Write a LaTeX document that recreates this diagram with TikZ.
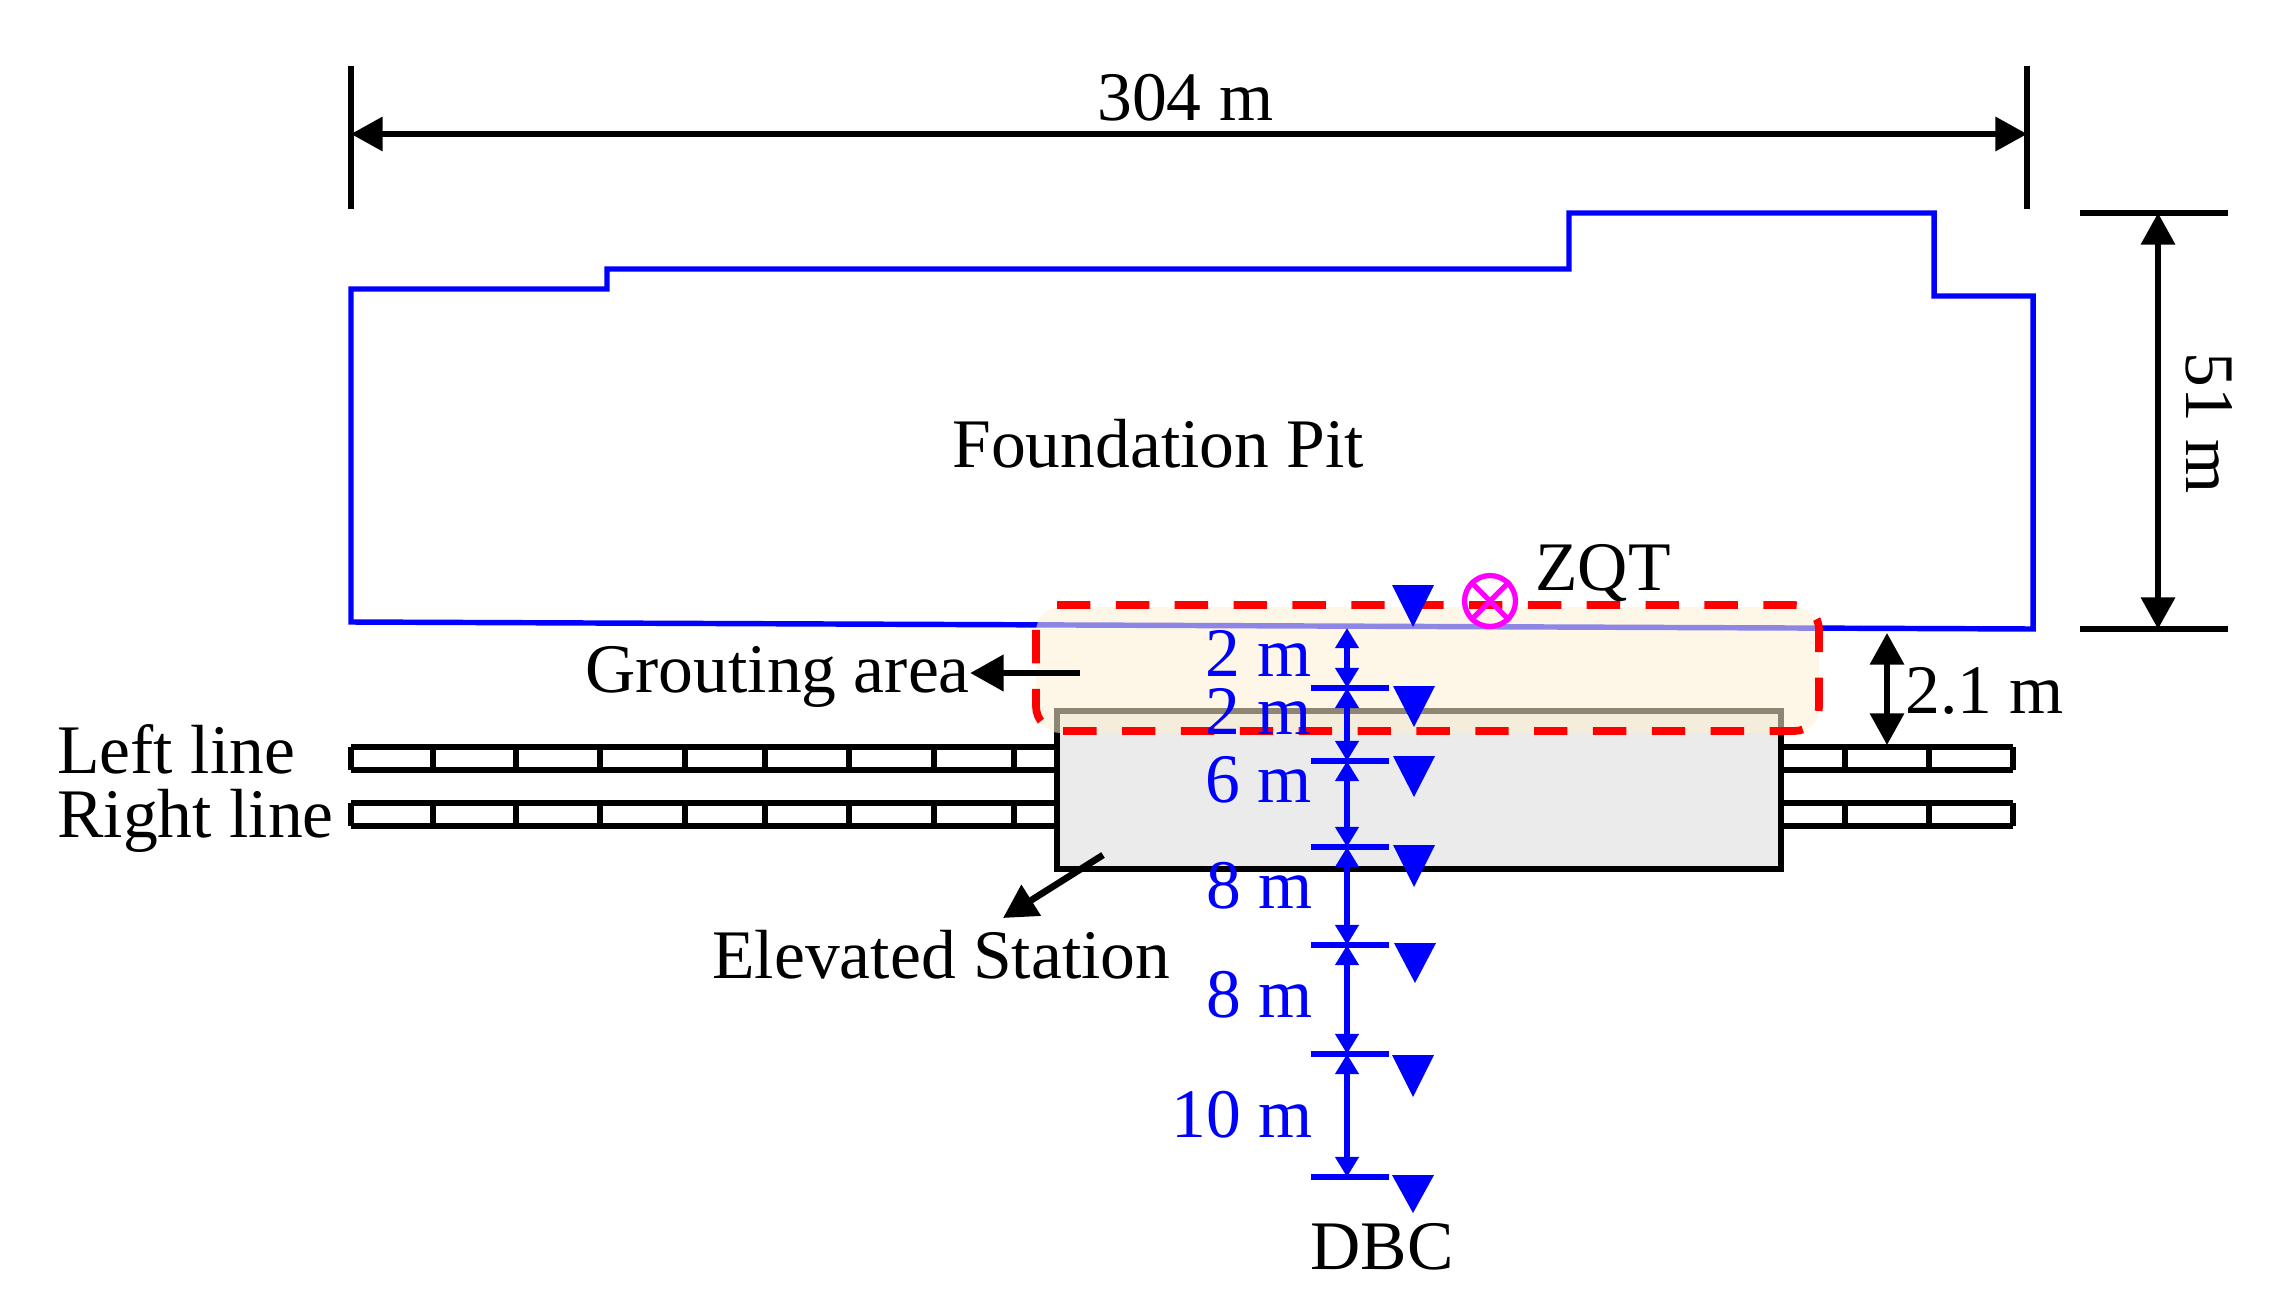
\documentclass[tikz,border=0pt]{standalone}
\usepackage{fontspec}
\setmainfont{Liberation Serif}
\usetikzlibrary{arrows.meta}
\definecolor{pit-blue}{RGB}{0,0,255}
\definecolor{mark-pink}{RGB}{255,0,255}
\definecolor{grout-cream}{RGB}{254,239,210}
\definecolor{station-grey}{RGB}{235,235,235}
\tikzset{
	txt/.style={inner sep=0pt, anchor=base west, font=\fontsize{39.6}{44}\selectfont},
	bluetxt/.style={txt, text=pit-blue},
	dimline/.style={black, line width=3.1pt, {Triangle[length=18pt,width=19pt]}-{Triangle[length=18pt,width=19pt]}},
	bluedim/.style={pit-blue, line width=3.2pt, {Triangle[length=11.5pt,width=13pt]}-{Triangle[length=11.5pt,width=13pt]}},
	extline/.style={black, line width=3.1pt},
	railline/.style={black, line width=3.4pt},
	leader/.style={black, line width=3.8pt, -{Triangle[length=19pt,width=20pt]}},
}
\newcommand{\levelmark}[3]{
	\fill[pit-blue] (#1-21,#2) -- (#1+21,#2) -- (#1,#3) -- cycle;
}
\begin{document}
\begin{tikzpicture}[x=0.02cm,y=-0.02cm]
	\useasboundingbox (0,0) rectangle (2291,1301);
	\draw[pit-blue, line width=3.1pt] (351,289) -- (607,289) -- (607,269) -- (1569,269) -- (1569,213) -- (1934,213) -- (1934,296) -- (2033,296) -- (2033,629) -- (351,622) -- cycle;
	\foreach \y in {747,770,803,826} {
		\draw[railline] (351,\y) -- (1057,\y);
		\draw[railline] (1781,\y) -- (2013,\y);
	}
	\foreach \y/\z in {747/770,803/826} {
		\foreach \x in {351,433,516,600,685,765,849,934,1014,1845,1929,2013}
			\draw[railline] (\x,\y) -- (\x,\z);
	}
	\draw[railline, fill=station-grey] (1057,711) rectangle (1781,869);
	\fill[grout-cream, opacity=0.56, rounded corners=14pt] (1036,607) rectangle (1819,733);
	\draw[red, line width=4.4pt, rounded corners=14pt, dash pattern=on 19pt off 14.5pt] (1057,605) -- (1819,605) -- (1819,731) -- (1036,731) -- (1036,618);
	\node[draw=mark-pink, line width=3pt, circle, minimum size=29pt, inner sep=0pt] (zqtmark) at (1490,601) {};
	\draw[mark-pink, line width=3pt] (zqtmark.45) -- (zqtmark.225);
	\draw[mark-pink, line width=3pt] (zqtmark.135) -- (zqtmark.315);
	\coordinate (topL) at (351,134);
	\coordinate (topR) at (2027,134);
	\draw[extline] (351,66) -- (351,209);
	\draw[extline] (2027,66) -- (2027,209);
	\draw[dimline] (topL) -- (topR);
	\coordinate (sideT) at (2158,213);
	\coordinate (sideB) at (2158,629);
	\draw[extline] (2080,213) -- (2228,213);
	\draw[extline] (2080,629) -- (2228,629);
	\draw[dimline] (sideT) -- (sideB);
	\coordinate (gapT) at (1887,633);
	\coordinate (gapB) at (1887,745);
	\draw[dimline] (gapT) -- (gapB);
	\foreach \n/\y in {0/628,1/688,2/761,3/847,4/945,5/1054,6/1177} {
		\coordinate (ax\n) at (1347,\y);
	}
	\foreach \y in {688,761,847,945,1054,1177}
		\draw[pit-blue, line width=3.2pt] (1311,\y) -- (1389,\y);
	\foreach \a/\b in {ax0/ax1,ax1/ax2,ax2/ax3,ax3/ax4,ax4/ax5,ax5/ax6}
		\draw[bluedim] (\a) -- (\b);
	\foreach \x/\y/\z in {1413/585/627,1414/686/727,1414/756/797,1414/845/887,1415/943/983,1413/1055/1097,1413/1175/1213} {
		\levelmark{\x}{\y}{\z}
	}
	\node[txt] (widthlab) at (1097,120) {304 m};
	\node[txt, rotate=-90] (depthlab) at (2186,352) {51 m};
	\node[txt] (pitlab) at (952,467) {Foundation Pit};
	\node[txt] (zqtlab) at (1535,590) {ZQT};
	\node[txt] (groutlab) at (585,692) {Grouting area};
	\node[txt] (leftlab) at (57,773) {Left line};
	\node[txt] (rightlab) at (57,837) {Right line};
	\node[txt] (stationlab) at (712,978) {Elevated Station};
	\node[txt] (gaplab) at (1905,713) {2.1 m};
	\node[txt] (dbclab) at (1310,1269) {DBC};
	\node[bluetxt] (stepA) at (1205,676) {2 m};
	\node[bluetxt] (stepB) at (1205,734) {2 m};
	\node[bluetxt] (stepC) at (1205,802) {6 m};
	\node[bluetxt] (stepD) at (1206,908) {8 m};
	\node[bluetxt] (stepE) at (1206,1017) {8 m};
	\node[bluetxt] (stepF) at (1171,1137) {10 m};
	\coordinate (groutfrom) at (1080,673);
	\coordinate (stationfrom) at (1103,855);
	\draw[leader] (groutfrom) -- (groutlab.east |- groutfrom);
	\draw[leader] (stationfrom) -- (1003,918);
\end{tikzpicture}
\end{document}
